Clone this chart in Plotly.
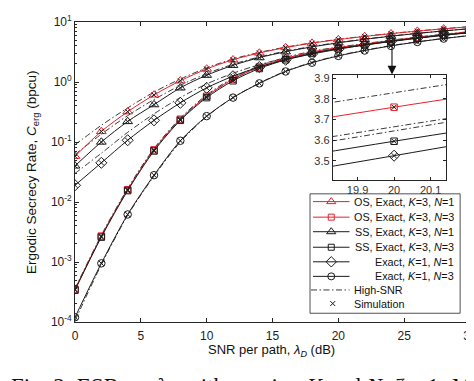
import plotly.graph_objects as go

# ---------------- data ----------------
snr_db = [0, 2, 4, 6, 8, 10, 12, 14, 16, 18, 20, 22, 24, 26, 28, 30]

os_k3_n1 = [0.058, 0.15, 0.32, 0.61, 1.05, 1.65, 2.35, 3.05, 3.75, 4.45, 5.1, 5.75, 6.4, 7.05, 7.7, 8.35]
os_k3_n3 = [3.5e-4, 2.7e-3, 0.016, 0.074, 0.24, 0.58, 1.12, 1.78, 2.48, 3.17, 3.76, 4.28, 4.9, 5.55, 6.2, 6.85]
ss_k3_n1 = [0.040, 0.10, 0.22, 0.42, 0.80, 1.30, 1.90, 2.55, 3.2, 3.85, 4.5, 5.15, 5.8, 6.45, 7.1, 7.75]
ss_k3_n3 = [3.4e-4, 2.6e-3, 0.0155, 0.071, 0.23, 0.55, 1.05, 1.68, 2.35, 3.0, 3.595, 4.13, 4.73, 5.36, 6.0, 6.65]
k1_n1 = [0.019, 0.045, 0.107, 0.23, 0.45, 0.80, 1.25, 1.78, 2.35, 2.93, 3.525, 4.15, 4.78, 5.42, 6.06, 6.7]
k1_n3 = [1.2e-4, 9.5e-4, 6.2e-3, 0.028, 0.105, 0.27, 0.55, 0.95, 1.5, 2.1, 2.72, 3.35, 4.0, 4.65, 5.3, 5.95]

hs_os_k3_n1 = [0.09, 0.19, 0.37, 0.68, 1.12, 1.72, 2.42, 3.12, 3.82, 4.5, 5.15, 5.8, 6.45, 7.1, 7.75, 8.4]
hs_ss_k3_n1 = [0.062, 0.135, 0.275, 0.51, 0.88, 1.38, 1.98, 2.62, 3.27, 3.92, 4.56, 5.2, 5.84, 6.48, 7.12, 7.76]
hs_k1_n1 = [0.03, 0.065, 0.145, 0.295, 0.55, 0.93, 1.40, 1.95, 2.51, 3.08, 3.645, 4.25, 4.87, 5.5, 6.13, 6.76]
hs_os_k3_n3 = [3.6e-4, 2.8e-3, 0.0168, 0.078, 0.25, 0.61, 1.17, 1.86, 2.57, 3.26, 3.83, 4.37, 4.98, 5.62, 6.27, 6.92]
hs_ss_k3_n3 = [3.5e-4, 2.7e-3, 0.0162, 0.075, 0.24, 0.58, 1.11, 1.76, 2.44, 3.08, 3.665, 4.2, 4.8, 5.43, 6.07, 6.72]
hs_k1_n3 = [1.05e-4, 9.0e-4, 6.0e-3, 0.027, 0.10, 0.265, 0.55, 0.96, 1.52, 2.13, 2.76, 3.39, 4.04, 4.69, 5.34, 5.99]

x_ticks = [0, 5, 10, 15, 20, 25, 30]
y_ticks = [1e-4, 1e-3, 1e-2, 1e-1, 1e0, 1e1]
y_ticktext = ["10<sup>-4</sup>", "10<sup>-3</sup>", "10<sup>-2</sup>", "10<sup>-1</sup>",
              "10<sup>0</sup>", "10<sup>1</sup>"]
inset_x_ticks = [19.9, 20.0, 20.1]
inset_x_text = ["19.9", "20", "20.1"]
inset_y_ticks = [3.5, 3.6, 3.7, 3.8, 3.9]

legend_labels = [
    "OS, Exact, <i>K</i>=3, <i>N</i>=1",
    "OS, Exact, <i>K</i>=3, <i>N</i>=3",
    "SS, Exact, <i>K</i>=3, <i>N</i>=1",
    "SS, Exact, <i>K</i>=3, <i>N</i>=3",
    "Exact, <i>K</i>=1, <i>N</i>=1",
    "Exact, <i>K</i>=1, <i>N</i>=3",
    "High-SNR",
    "Simulation",
]

# ---------------- styling ----------------
W, H = 474, 381
ML, MR, MT, MB = 67, 7, 5, 67
PL, PR, PT, PB = ML, W - MR, MT, H - MB  # plot area in pixels
RED = "#e8202a"
BLK = "#1a1a1a"
AX = "#262626"
FONT = "Liberation Sans"


def px_x(p):
    return (p - PL) / (PR - PL)


def px_y(p):
    return (PB - p) / (PB - PT)


exact = [
    (os_k3_n1, RED, "triangle-up-open", 8.5),
    (os_k3_n3, RED, "square-open", 6.5),
    (ss_k3_n1, BLK, "triangle-up-open", 8.5),
    (ss_k3_n3, BLK, "square-open", 6.5),
    (k1_n1, BLK, "diamond-open", 8.5),
    (k1_n3, BLK, "circle-open", 7.5),
]
highsnr = [hs_os_k3_n1, hs_ss_k3_n1, hs_k1_n1, hs_os_k3_n3, hs_ss_k3_n3, hs_k1_n3]
DASHDOT = "6px,2.5px,1.5px,2.5px"

fig = go.Figure()

for xa, ya in (("x", "y"), ("x2", "y2")):
    for ys in highsnr:
        fig.add_trace(go.Scatter(
            x=snr_db, y=ys, mode="lines", xaxis=xa, yaxis=ya,
            line=dict(color="#3a3a3a", width=1, dash=DASHDOT, shape="spline", smoothing=0.8),
            showlegend=False, hoverinfo="skip"))
    for ys, c, sym, sz in exact:
        fig.add_trace(go.Scatter(
            x=snr_db, y=ys, mode="lines+markers", xaxis=xa, yaxis=ya,
            line=dict(color=c, width=1, shape="spline", smoothing=0.8),
            marker=dict(symbol=sym, size=sz, color=c, line=dict(width=1, color=c)),
            showlegend=False, hoverinfo="skip"))
    for ys, c, sym, sz in exact:
        fig.add_trace(go.Scatter(
            x=snr_db, y=ys, mode="markers", xaxis=xa, yaxis=ya,
            marker=dict(symbol="x-thin", size=5, color=BLK, line=dict(width=1, color=BLK)),
            showlegend=False, hoverinfo="skip"))

# ---------------- manual legend (pixel overlay axes x3/y3) ----------------
leg_left, leg_right, leg_top, leg_bottom = 305, 457, 182, 305
row_y = [190, 206, 221, 237, 252, 267, 281, 295]
LEGFONT = dict(family=FONT, size=10.8, color="#111")
shapes = [dict(type="rect", xref="x3", yref="y3", x0=leg_left, x1=leg_right,
               y0=leg_top, y1=leg_bottom, line=dict(color=AX, width=0.8),
               fillcolor="white", layer="below")]
annotations = []
leg_styles = [(RED, "triangle-up-open", 8), (RED, "square-open", 6),
              (BLK, "triangle-up-open", 8), (BLK, "square-open", 6),
              (BLK, "diamond-open", 8), (BLK, "circle-open", 7)]
for i, (c, sym, sz) in enumerate(leg_styles):
    y = row_y[i]
    fig.add_trace(go.Scatter(x=[308, 345], y=[y, y], mode="lines", xaxis="x3", yaxis="y3",
                             line=dict(color=c, width=1), showlegend=False, hoverinfo="skip"))
    fig.add_trace(go.Scatter(x=[326.5], y=[y], mode="markers", xaxis="x3", yaxis="y3",
                             marker=dict(symbol=sym, size=sz, color=c, line=dict(width=1, color=c)),
                             showlegend=False, hoverinfo="skip"))
    annotations.append(dict(xref="x3", yref="y3", x=453, y=y, text=legend_labels[i],
                            xanchor="right", yanchor="middle", showarrow=False,
                            font=LEGFONT))
fig.add_trace(go.Scatter(x=[306, 345], y=[row_y[6], row_y[6]], mode="lines", xaxis="x3", yaxis="y3",
                         line=dict(color="#3a3a3a", width=1, dash=DASHDOT),
                         showlegend=False, hoverinfo="skip"))
annotations.append(dict(xref="x3", yref="y3", x=347, y=row_y[6], text=legend_labels[6],
                        xanchor="left", yanchor="middle", showarrow=False, font=LEGFONT))
fig.add_trace(go.Scatter(x=[328], y=[row_y[7]], mode="markers", xaxis="x3", yaxis="y3",
                         marker=dict(symbol="x-thin", size=5, color=BLK, line=dict(width=1, color=BLK)),
                         showlegend=False, hoverinfo="skip"))
annotations.append(dict(xref="x3", yref="y3", x=347, y=row_y[7], text=legend_labels[7],
                        xanchor="left", yanchor="middle", showarrow=False, font=LEGFONT))

# arrow to inset
annotations.append(dict(xref="x3", yref="y3", x=388, y=59, axref="x3", ayref="y3",
                        ax=388, ay=27, text="", showarrow=True, arrowhead=2,
                        arrowsize=1.6, arrowwidth=1.1, arrowcolor="#111"))

# axis titles
annotations.append(dict(xref="paper", yref="paper", x=px_x(266), y=px_y(343),
                        text="SNR per path, <i>λ</i><sub><i>D</i></sub> (dB)",
                        showarrow=False, xanchor="center", yanchor="middle",
                        font=dict(family=FONT, size=13, color="#111")))
annotations.append(dict(xref="paper", yref="paper", x=px_x(24), y=px_y(160),
                        text="Ergodic Secrecy Rate, <i>C</i><sub>erg</sub> (bpcu)",
                        textangle=-90, showarrow=False, xanchor="center", yanchor="middle",
                        font=dict(family=FONT, size=13.5, color="#111")))
# caption (cut at bottom of picture)
annotations.append(dict(xref="paper", yref="paper", x=px_x(0), y=px_y(366),
                        text="Fig. 2: ESR vs. <i>λ</i><sub><i>D</i></sub> with varying <i>K</i> and <i>N</i>, <i>ζ</i> = 1, <i>M</i>",
                        showarrow=False, xanchor="left", yanchor="top",
                        font=dict(family="Liberation Serif", size=23, color="#111")))

axis_common = dict(showline=True, linecolor=AX, linewidth=0.8, mirror="ticks",
                   ticks="inside", tickcolor=AX, tickwidth=0.8, showgrid=False,
                   zeroline=False, ticklabeloverflow="allow")

minor_vals = [m * 10 ** e for e in range(-4, 1) for m in range(2, 10)]

fig.update_layout(
    width=W, height=H,
    margin=dict(l=ML, r=MR, t=MT, b=MB, pad=0),
    paper_bgcolor="white", plot_bgcolor="white",
    showlegend=False,
    xaxis=dict(range=[0, 30], tickvals=x_ticks, ticklen=4, ticklabelstandoff=3,
               tickfont=dict(family=FONT, size=12, color="#222"), **axis_common),
    yaxis=dict(type="log", range=[-4, 1.0005], tickvals=y_ticks, ticktext=y_ticktext, ticklen=4,
               tickfont=dict(family=FONT, size=12, color="#222"),
               minor=dict(tickvals=minor_vals, ticks="inside", ticklen=2.5,
                          tickcolor=AX, tickwidth=0.6, showgrid=False),
               **axis_common),
    xaxis2=dict(domain=[px_x(328), px_x(443)], anchor="y2", range=[19.832, 20.143],
                tickvals=inset_x_ticks, ticktext=inset_x_text, ticklen=3,
                tickfont=dict(family=FONT, size=11, color="#333"), **axis_common),
    yaxis2=dict(domain=[px_y(168), px_y(60)], anchor="x2", range=[3.406, 3.914],
                tickvals=inset_y_ticks, ticklen=3,
                tickfont=dict(family=FONT, size=11, color="#333"), **axis_common),
    xaxis3=dict(overlaying="x", range=[PL, PR], visible=False, fixedrange=True),
    yaxis3=dict(overlaying="y", range=[PB, PT], visible=False, fixedrange=True),
    shapes=shapes,
    annotations=annotations,
)

fig.write_html("out.html")
